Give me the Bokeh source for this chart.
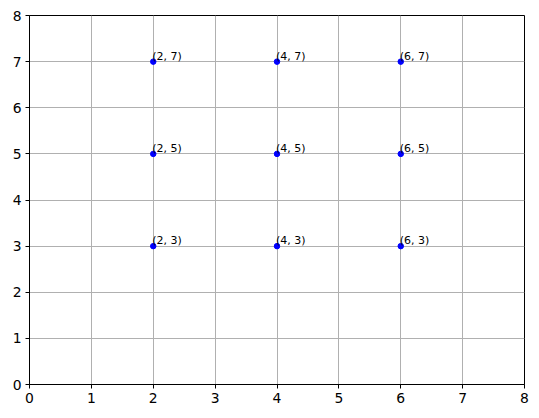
from bokeh.plotting import figure
from bokeh.models import ColumnDataSource, Range1d, FixedTicker
from bokeh.core.properties import value
from bokeh.embed import file_html
from bokeh.resources import INLINE

xs = [2, 2, 2, 4, 4, 4, 6, 6, 6]
ys = [3, 5, 7, 3, 5, 7, 3, 5, 7]
labels = [f"({x}, {y})" for x, y in zip(xs, ys)]
ticks = [0, 1, 2, 3, 4, 5, 6, 7, 8]

src = ColumnDataSource(dict(x=xs, y=ys, label=labels))

p = figure(output_backend="svg", toolbar_location=None,
           frame_width=495, frame_height=369,
           x_range=Range1d(0, 8), y_range=Range1d(0, 8),
           min_border_left=29, min_border_top=15, min_border_right=12, min_border_bottom=10)

p.background_fill_color = "white"
p.outline_line_color = "black"
p.outline_line_width = 1

for ax in (p.xaxis[0], p.yaxis[0]):
    ax.ticker = FixedTicker(ticks=ticks)
    ax.minor_tick_line_color = None
    ax.major_tick_out = 4
    ax.major_tick_in = 0
    ax.major_label_text_font = "DejaVu Sans"
    ax.major_label_text_font_size = "13.9px"
    ax.major_label_text_color = "black"
    ax.axis_line_color = "black"
    ax.major_tick_line_color = "black"
    ax.major_label_standoff = 4

p.xgrid.ticker = FixedTicker(ticks=ticks)
p.ygrid.ticker = FixedTicker(ticks=ticks)
p.grid.grid_line_color = "#b0b0b0"
p.grid.grid_line_width = 1

p.scatter("x", "y", source=src, size=5.5, color="blue", marker="circle")
p.text("x", "y", text="label", source=src, text_font=value("DejaVu Sans"),
       text_font_size="11px", text_baseline="bottom", text_align="left",
       text_color="black", x_offset=-1, y_offset=1)

open("out.html", "w").write(file_html(p, INLINE))
